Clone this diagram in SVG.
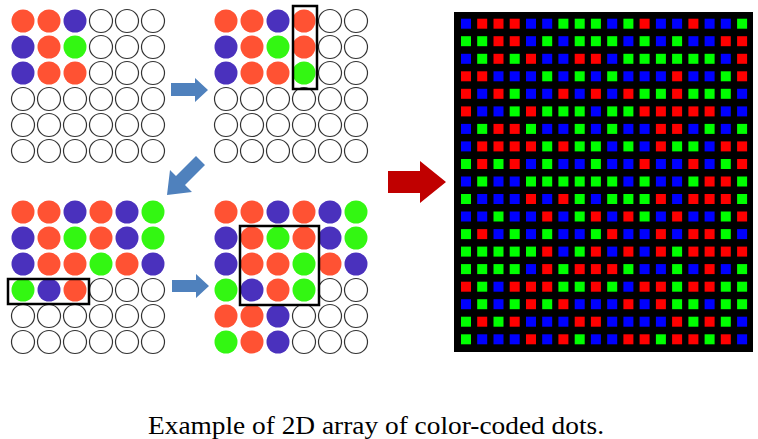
<svg xmlns="http://www.w3.org/2000/svg" width="758" height="439" viewBox="0 0 758 439">
<style>
circle{r:11.5px}
.R{fill:#FF5233}.B{fill:#4A31BD}.G{fill:#33F712}.E{fill:#fff;stroke:#333;stroke-width:1.2}
rect.r,rect.g,rect.b{width:10px;height:10px}
.r{fill:#FF0000}.g{fill:#00FF00}.b{fill:#0000FF}
.box{fill:none;stroke:#000;stroke-width:2.5}
.ar{fill:#4F81BD}
.cap{font-family:'Liberation Serif','Times New Roman',serif;font-size:26px;fill:#000}
</style>
<defs>
<g id="empty6"><circle class="E" cx="0" cy="0"/><circle class="E" cx="26" cy="0"/><circle class="E" cx="52" cy="0"/><circle class="E" cx="78" cy="0"/><circle class="E" cx="104" cy="0"/><circle class="E" cx="130" cy="0"/></g>
</defs>
<g id="panel1">
<circle class="R" cx="23" cy="21"/><circle class="R" cx="49" cy="21"/><circle class="B" cx="75" cy="21"/><circle class="E" cx="101" cy="21"/><circle class="E" cx="127" cy="21"/><circle class="E" cx="153" cy="21"/>
<circle class="B" cx="23" cy="47"/><circle class="R" cx="49" cy="47"/><circle class="G" cx="75" cy="47"/><circle class="E" cx="101" cy="47"/><circle class="E" cx="127" cy="47"/><circle class="E" cx="153" cy="47"/>
<circle class="B" cx="23" cy="73"/><circle class="R" cx="49" cy="73"/><circle class="R" cx="75" cy="73"/><circle class="E" cx="101" cy="73"/><circle class="E" cx="127" cy="73"/><circle class="E" cx="153" cy="73"/>
<use href="#empty6" x="23" y="99"/><use href="#empty6" x="23" y="125"/><use href="#empty6" x="23" y="151"/>
</g>
<g id="panel2">
<circle class="R" cx="226" cy="21"/><circle class="R" cx="252" cy="21"/><circle class="B" cx="278" cy="21"/><circle class="R" cx="304" cy="21"/><circle class="E" cx="330" cy="21"/><circle class="E" cx="356" cy="21"/>
<circle class="B" cx="226" cy="47"/><circle class="R" cx="252" cy="47"/><circle class="G" cx="278" cy="47"/><circle class="R" cx="304" cy="47"/><circle class="E" cx="330" cy="47"/><circle class="E" cx="356" cy="47"/>
<circle class="B" cx="226" cy="73"/><circle class="R" cx="252" cy="73"/><circle class="R" cx="278" cy="73"/><circle class="G" cx="304" cy="73"/><circle class="E" cx="330" cy="73"/><circle class="E" cx="356" cy="73"/>
<use href="#empty6" x="226" y="99"/><use href="#empty6" x="226" y="125"/><use href="#empty6" x="226" y="151"/>
<rect class="box" x="293" y="6" width="24" height="83"/>
</g>
<g id="panel3">
<circle class="R" cx="23" cy="212"/><circle class="R" cx="49" cy="212"/><circle class="B" cx="75" cy="212"/><circle class="R" cx="101" cy="212"/><circle class="B" cx="127" cy="212"/><circle class="G" cx="153" cy="212"/>
<circle class="B" cx="23" cy="238"/><circle class="R" cx="49" cy="238"/><circle class="G" cx="75" cy="238"/><circle class="R" cx="101" cy="238"/><circle class="B" cx="127" cy="238"/><circle class="G" cx="153" cy="238"/>
<circle class="B" cx="23" cy="264"/><circle class="R" cx="49" cy="264"/><circle class="R" cx="75" cy="264"/><circle class="G" cx="101" cy="264"/><circle class="R" cx="127" cy="264"/><circle class="B" cx="153" cy="264"/>
<circle class="G" cx="23" cy="290"/><circle class="B" cx="49" cy="290"/><circle class="R" cx="75" cy="290"/><circle class="E" cx="101" cy="290"/><circle class="E" cx="127" cy="290"/><circle class="E" cx="153" cy="290"/>
<use href="#empty6" x="23" y="316"/><use href="#empty6" x="23" y="342"/>
<rect class="box" x="8" y="279" width="81" height="25"/>
</g>
<g id="panel4">
<circle class="R" cx="226" cy="212"/><circle class="R" cx="252" cy="212"/><circle class="B" cx="278" cy="212"/><circle class="R" cx="304" cy="212"/><circle class="B" cx="330" cy="212"/><circle class="G" cx="356" cy="212"/>
<circle class="B" cx="226" cy="238"/><circle class="R" cx="252" cy="238"/><circle class="G" cx="278" cy="238"/><circle class="R" cx="304" cy="238"/><circle class="B" cx="330" cy="238"/><circle class="G" cx="356" cy="238"/>
<circle class="B" cx="226" cy="264"/><circle class="R" cx="252" cy="264"/><circle class="R" cx="278" cy="264"/><circle class="G" cx="304" cy="264"/><circle class="R" cx="330" cy="264"/><circle class="B" cx="356" cy="264"/>
<circle class="G" cx="226" cy="290"/><circle class="B" cx="252" cy="290"/><circle class="R" cx="278" cy="290"/><circle class="G" cx="304" cy="290"/><circle class="E" cx="330" cy="290"/><circle class="E" cx="356" cy="290"/>
<circle class="R" cx="226" cy="316"/><circle class="R" cx="252" cy="316"/><circle class="B" cx="278" cy="316"/><circle class="E" cx="304" cy="316"/><circle class="E" cx="330" cy="316"/><circle class="E" cx="356" cy="316"/>
<circle class="G" cx="226" cy="342"/><circle class="R" cx="252" cy="342"/><circle class="B" cx="278" cy="342"/><circle class="E" cx="304" cy="342"/><circle class="E" cx="330" cy="342"/><circle class="E" cx="356" cy="342"/>
<rect class="box" x="240" y="226" width="79" height="79"/>
</g>
<g id="connectors">
<polygon class="ar" points="171,83 195,83 195,78 208,90 195,102 195,96 171,96"/>
<polygon class="ar" points="205,165 196,156 176,176 170,170 167,195 192,192 185,185"/>
<polygon class="ar" points="172,280 196,280 196,274 209,286 196,298 196,292 172,292"/>
<polygon fill="#C00000" points="388,171 420,171 420,161 446,182 420,203 420,193 388,193"/>
</g>
<g id="grid">
<rect x="454" y="12" width="299" height="340" fill="#000"/>
<g transform="translate(0,18.7)"><rect class="b" x="461"/><rect class="r" x="477.2"/><rect class="r" x="493.5"/><rect class="r" x="509.7"/><rect class="b" x="526"/><rect class="b" x="542.2"/><rect class="g" x="558.4"/><rect class="g" x="574.7"/><rect class="g" x="590.9"/><rect class="b" x="607.2"/><rect class="g" x="623.4"/><rect class="r" x="639.6"/><rect class="b" x="655.9"/><rect class="b" x="672.1"/><rect class="r" x="688.4"/><rect class="b" x="704.6"/><rect class="b" x="720.8"/><rect class="g" x="737.1"/></g>
<g transform="translate(0,36.2)"><rect class="g" x="461"/><rect class="g" x="477.2"/><rect class="r" x="493.5"/><rect class="r" x="509.7"/><rect class="b" x="526"/><rect class="g" x="542.2"/><rect class="b" x="558.4"/><rect class="g" x="574.7"/><rect class="g" x="590.9"/><rect class="g" x="607.2"/><rect class="b" x="623.4"/><rect class="g" x="639.6"/><rect class="b" x="655.9"/><rect class="g" x="672.1"/><rect class="b" x="688.4"/><rect class="b" x="704.6"/><rect class="r" x="720.8"/><rect class="r" x="737.1"/></g>
<g transform="translate(0,53.8)"><rect class="b" x="461"/><rect class="g" x="477.2"/><rect class="r" x="493.5"/><rect class="g" x="509.7"/><rect class="r" x="526"/><rect class="b" x="542.2"/><rect class="b" x="558.4"/><rect class="r" x="574.7"/><rect class="r" x="590.9"/><rect class="b" x="607.2"/><rect class="g" x="623.4"/><rect class="g" x="639.6"/><rect class="g" x="655.9"/><rect class="g" x="672.1"/><rect class="g" x="688.4"/><rect class="g" x="704.6"/><rect class="b" x="720.8"/><rect class="r" x="737.1"/></g>
<g transform="translate(0,71.3)"><rect class="r" x="461"/><rect class="r" x="477.2"/><rect class="b" x="493.5"/><rect class="b" x="509.7"/><rect class="b" x="526"/><rect class="g" x="542.2"/><rect class="b" x="558.4"/><rect class="g" x="574.7"/><rect class="b" x="590.9"/><rect class="g" x="607.2"/><rect class="b" x="623.4"/><rect class="b" x="639.6"/><rect class="b" x="655.9"/><rect class="r" x="672.1"/><rect class="b" x="688.4"/><rect class="b" x="704.6"/><rect class="g" x="720.8"/><rect class="r" x="737.1"/></g>
<g transform="translate(0,88.8)"><rect class="r" x="461"/><rect class="b" x="477.2"/><rect class="r" x="493.5"/><rect class="g" x="509.7"/><rect class="b" x="526"/><rect class="b" x="542.2"/><rect class="r" x="558.4"/><rect class="b" x="574.7"/><rect class="r" x="590.9"/><rect class="b" x="607.2"/><rect class="r" x="623.4"/><rect class="g" x="639.6"/><rect class="g" x="655.9"/><rect class="r" x="672.1"/><rect class="g" x="688.4"/><rect class="g" x="704.6"/><rect class="g" x="720.8"/><rect class="b" x="737.1"/></g>
<g transform="translate(0,106.4)"><rect class="r" x="461"/><rect class="b" x="477.2"/><rect class="b" x="493.5"/><rect class="g" x="509.7"/><rect class="r" x="526"/><rect class="g" x="542.2"/><rect class="g" x="558.4"/><rect class="g" x="574.7"/><rect class="b" x="590.9"/><rect class="g" x="607.2"/><rect class="g" x="623.4"/><rect class="r" x="639.6"/><rect class="r" x="655.9"/><rect class="r" x="672.1"/><rect class="r" x="688.4"/><rect class="r" x="704.6"/><rect class="b" x="720.8"/><rect class="b" x="737.1"/></g>
<g transform="translate(0,123.9)"><rect class="b" x="461"/><rect class="g" x="477.2"/><rect class="r" x="493.5"/><rect class="r" x="509.7"/><rect class="g" x="526"/><rect class="b" x="542.2"/><rect class="b" x="558.4"/><rect class="g" x="574.7"/><rect class="b" x="590.9"/><rect class="g" x="607.2"/><rect class="b" x="623.4"/><rect class="b" x="639.6"/><rect class="r" x="655.9"/><rect class="r" x="672.1"/><rect class="b" x="688.4"/><rect class="g" x="704.6"/><rect class="b" x="720.8"/><rect class="g" x="737.1"/></g>
<g transform="translate(0,141.4)"><rect class="b" x="461"/><rect class="r" x="477.2"/><rect class="r" x="493.5"/><rect class="r" x="509.7"/><rect class="r" x="526"/><rect class="g" x="542.2"/><rect class="r" x="558.4"/><rect class="g" x="574.7"/><rect class="g" x="590.9"/><rect class="b" x="607.2"/><rect class="g" x="623.4"/><rect class="b" x="639.6"/><rect class="r" x="655.9"/><rect class="g" x="672.1"/><rect class="g" x="688.4"/><rect class="b" x="704.6"/><rect class="r" x="720.8"/><rect class="r" x="737.1"/></g>
<g transform="translate(0,159)"><rect class="g" x="461"/><rect class="r" x="477.2"/><rect class="g" x="493.5"/><rect class="r" x="509.7"/><rect class="b" x="526"/><rect class="g" x="542.2"/><rect class="b" x="558.4"/><rect class="b" x="574.7"/><rect class="g" x="590.9"/><rect class="b" x="607.2"/><rect class="b" x="623.4"/><rect class="r" x="639.6"/><rect class="b" x="655.9"/><rect class="b" x="672.1"/><rect class="r" x="688.4"/><rect class="b" x="704.6"/><rect class="g" x="720.8"/><rect class="r" x="737.1"/></g>
<g transform="translate(0,176.5)"><rect class="b" x="461"/><rect class="g" x="477.2"/><rect class="b" x="493.5"/><rect class="b" x="509.7"/><rect class="g" x="526"/><rect class="g" x="542.2"/><rect class="g" x="558.4"/><rect class="g" x="574.7"/><rect class="g" x="590.9"/><rect class="g" x="607.2"/><rect class="b" x="623.4"/><rect class="g" x="639.6"/><rect class="b" x="655.9"/><rect class="b" x="672.1"/><rect class="g" x="688.4"/><rect class="r" x="704.6"/><rect class="r" x="720.8"/><rect class="g" x="737.1"/></g>
<g transform="translate(0,194)"><rect class="g" x="461"/><rect class="b" x="477.2"/><rect class="b" x="493.5"/><rect class="b" x="509.7"/><rect class="r" x="526"/><rect class="b" x="542.2"/><rect class="r" x="558.4"/><rect class="g" x="574.7"/><rect class="b" x="590.9"/><rect class="g" x="607.2"/><rect class="g" x="623.4"/><rect class="g" x="639.6"/><rect class="r" x="655.9"/><rect class="b" x="672.1"/><rect class="r" x="688.4"/><rect class="r" x="704.6"/><rect class="r" x="720.8"/><rect class="g" x="737.1"/></g>
<g transform="translate(0,211.5)"><rect class="b" x="461"/><rect class="b" x="477.2"/><rect class="g" x="493.5"/><rect class="b" x="509.7"/><rect class="b" x="526"/><rect class="r" x="542.2"/><rect class="b" x="558.4"/><rect class="g" x="574.7"/><rect class="r" x="590.9"/><rect class="b" x="607.2"/><rect class="r" x="623.4"/><rect class="g" x="639.6"/><rect class="b" x="655.9"/><rect class="r" x="672.1"/><rect class="b" x="688.4"/><rect class="b" x="704.6"/><rect class="g" x="720.8"/><rect class="r" x="737.1"/></g>
<g transform="translate(0,229.1)"><rect class="g" x="461"/><rect class="r" x="477.2"/><rect class="b" x="493.5"/><rect class="g" x="509.7"/><rect class="b" x="526"/><rect class="g" x="542.2"/><rect class="b" x="558.4"/><rect class="b" x="574.7"/><rect class="g" x="590.9"/><rect class="r" x="607.2"/><rect class="b" x="623.4"/><rect class="b" x="639.6"/><rect class="r" x="655.9"/><rect class="b" x="672.1"/><rect class="r" x="688.4"/><rect class="r" x="704.6"/><rect class="g" x="720.8"/><rect class="b" x="737.1"/></g>
<g transform="translate(0,246.6)"><rect class="g" x="461"/><rect class="g" x="477.2"/><rect class="g" x="493.5"/><rect class="g" x="509.7"/><rect class="g" x="526"/><rect class="r" x="542.2"/><rect class="b" x="558.4"/><rect class="g" x="574.7"/><rect class="r" x="590.9"/><rect class="b" x="607.2"/><rect class="r" x="623.4"/><rect class="b" x="639.6"/><rect class="r" x="655.9"/><rect class="g" x="672.1"/><rect class="r" x="688.4"/><rect class="r" x="704.6"/><rect class="r" x="720.8"/><rect class="r" x="737.1"/></g>
<g transform="translate(0,264.1)"><rect class="g" x="461"/><rect class="g" x="477.2"/><rect class="g" x="493.5"/><rect class="g" x="509.7"/><rect class="b" x="526"/><rect class="r" x="542.2"/><rect class="g" x="558.4"/><rect class="r" x="574.7"/><rect class="r" x="590.9"/><rect class="r" x="607.2"/><rect class="g" x="623.4"/><rect class="b" x="639.6"/><rect class="b" x="655.9"/><rect class="g" x="672.1"/><rect class="b" x="688.4"/><rect class="r" x="704.6"/><rect class="b" x="720.8"/><rect class="g" x="737.1"/></g>
<g transform="translate(0,281.7)"><rect class="r" x="461"/><rect class="g" x="477.2"/><rect class="b" x="493.5"/><rect class="r" x="509.7"/><rect class="r" x="526"/><rect class="r" x="542.2"/><rect class="g" x="558.4"/><rect class="g" x="574.7"/><rect class="r" x="590.9"/><rect class="g" x="607.2"/><rect class="b" x="623.4"/><rect class="r" x="639.6"/><rect class="r" x="655.9"/><rect class="g" x="672.1"/><rect class="r" x="688.4"/><rect class="r" x="704.6"/><rect class="g" x="720.8"/><rect class="g" x="737.1"/></g>
<g transform="translate(0,299.2)"><rect class="b" x="461"/><rect class="g" x="477.2"/><rect class="b" x="493.5"/><rect class="g" x="509.7"/><rect class="r" x="526"/><rect class="g" x="542.2"/><rect class="r" x="558.4"/><rect class="b" x="574.7"/><rect class="b" x="590.9"/><rect class="b" x="607.2"/><rect class="r" x="623.4"/><rect class="b" x="639.6"/><rect class="r" x="655.9"/><rect class="g" x="672.1"/><rect class="g" x="688.4"/><rect class="b" x="704.6"/><rect class="g" x="720.8"/><rect class="g" x="737.1"/></g>
<g transform="translate(0,316.7)"><rect class="g" x="461"/><rect class="r" x="477.2"/><rect class="g" x="493.5"/><rect class="r" x="509.7"/><rect class="b" x="526"/><rect class="b" x="542.2"/><rect class="b" x="558.4"/><rect class="r" x="574.7"/><rect class="r" x="590.9"/><rect class="b" x="607.2"/><rect class="b" x="623.4"/><rect class="b" x="639.6"/><rect class="b" x="655.9"/><rect class="r" x="672.1"/><rect class="g" x="688.4"/><rect class="r" x="704.6"/><rect class="g" x="720.8"/><rect class="b" x="737.1"/></g>
<g transform="translate(0,334.3)"><rect class="g" x="461"/><rect class="b" x="477.2"/><rect class="b" x="493.5"/><rect class="b" x="509.7"/><rect class="r" x="526"/><rect class="b" x="542.2"/><rect class="r" x="558.4"/><rect class="g" x="574.7"/><rect class="b" x="590.9"/><rect class="b" x="607.2"/><rect class="r" x="623.4"/><rect class="r" x="639.6"/><rect class="g" x="655.9"/><rect class="r" x="672.1"/><rect class="r" x="688.4"/><rect class="g" x="704.6"/><rect class="r" x="720.8"/><rect class="b" x="737.1"/></g>
</g>
<text class="cap" x="148" y="434" textLength="456" lengthAdjust="spacingAndGlyphs">Example of 2D array of color-coded dots.</text>
</svg>
